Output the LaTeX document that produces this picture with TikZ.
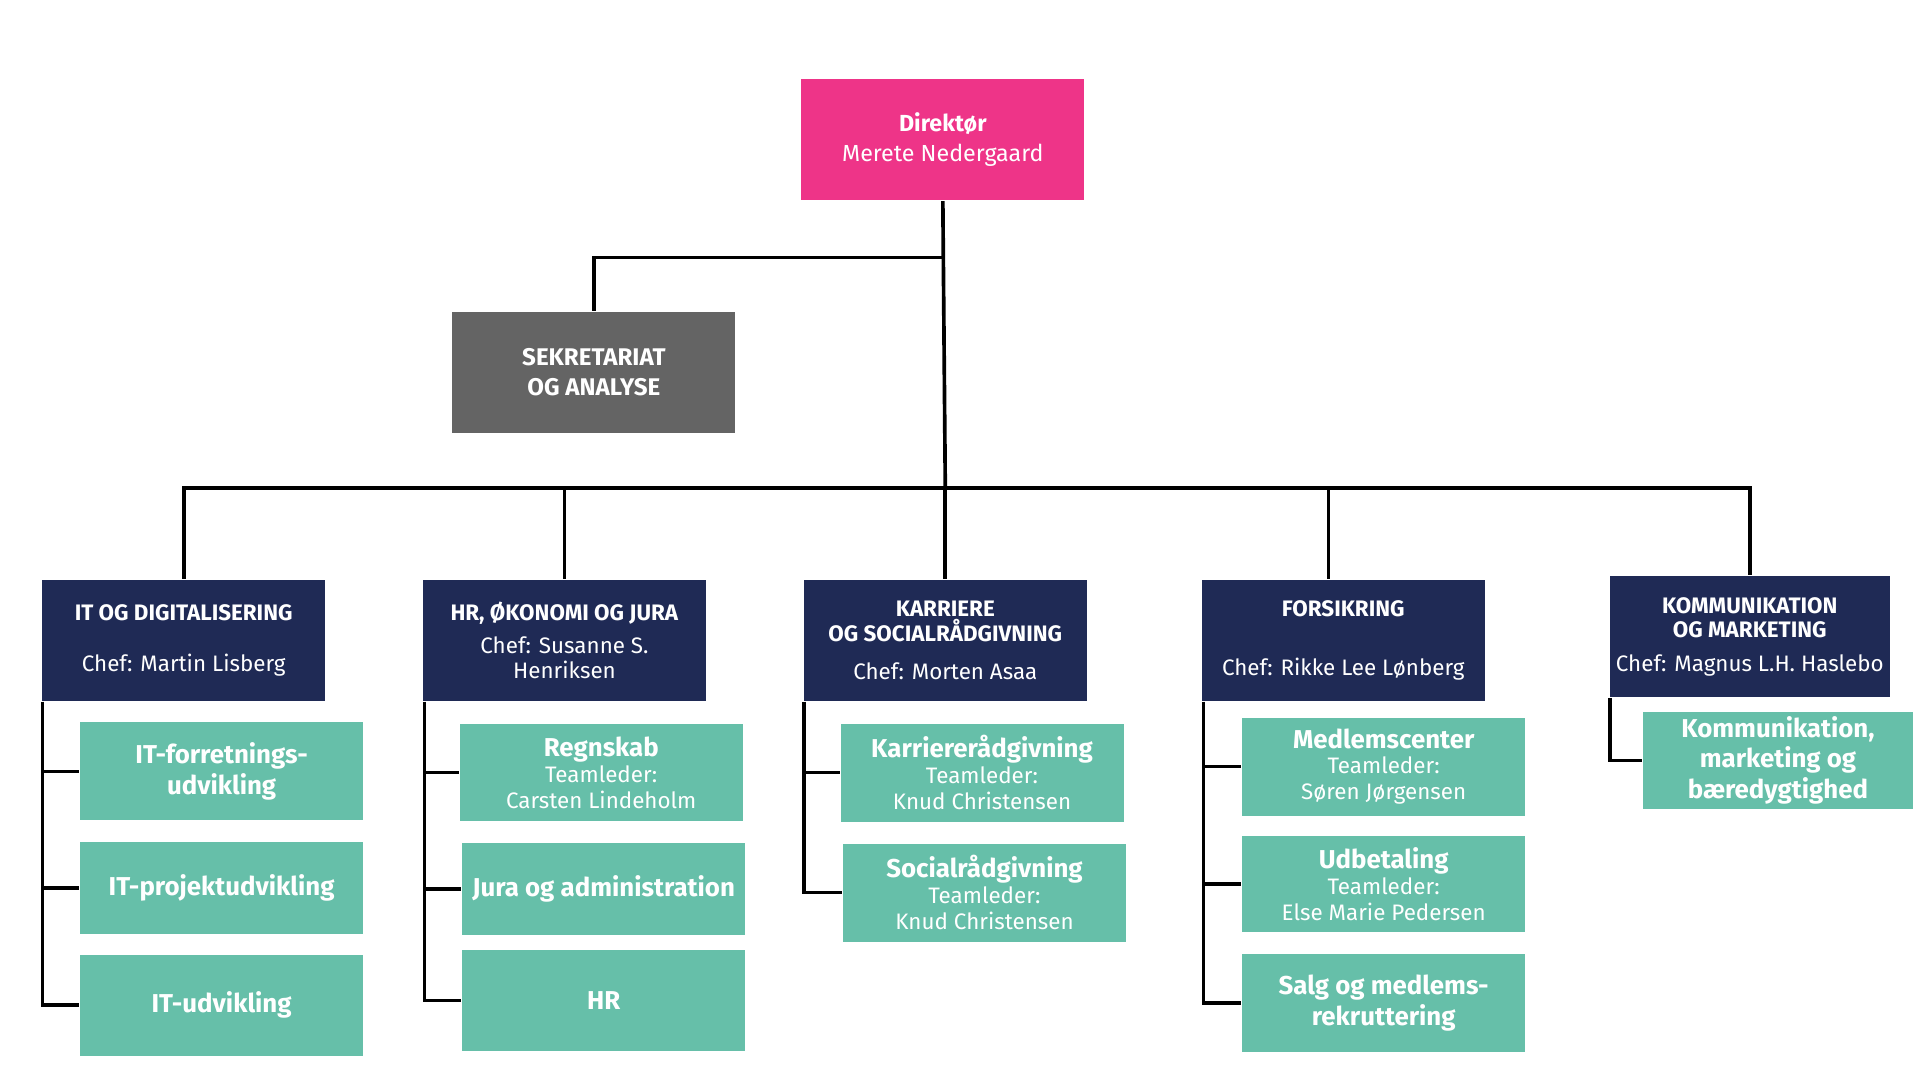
\documentclass[tikz,border=0pt]{standalone}
\usepackage{fontspec}
\setmainfont{Fira Sans}
\usetikzlibrary{positioning}
\definecolor{dirpink}{RGB}{238, 52, 136}
\definecolor{secgray}{RGB}{100, 100, 100}
\definecolor{deptnavy}{RGB}{31, 42, 85}
\definecolor{teamteal}{RGB}{102, 191, 169}
\newcommand{\ttl}[1]{{\bfseries\fontsize{6}{6.6}\selectfont #1}}

\begin{document}
\begin{tikzpicture}[x=0.01cm, y=-0.01cm,
        base/.style={rectangle, inner sep=1pt, align=center, text=white, minimum width=2.31cm},
        top/.style={base, fill=dirpink, minimum height=0.99cm, font=\fontsize{5.4}{7}\selectfont},
        sec/.style={base, fill=secgray, minimum height=0.99cm, font=\bfseries\fontsize{5.6}{6.8}\selectfont},
        dept/.style={base, fill=deptnavy, minimum height=0.99cm, font=\fontsize{5.2}{5.8}\selectfont},
        team/.style={base, fill=teamteal, font=\fontsize{5.2}{6}\selectfont},
        link/.style={draw=black, line width=0.85pt}
      ]
        \useasboundingbox (0,0) rectangle (1568,882);
        \node[top]  at (770, 114) (dir) {\textbf{Direktør}\\Merete Nedergaard};
        \node[sec]  at (485, 304) (sek) {SEKRETARIAT\\OG ANALYSE};

        \node[dept] at (150, 523)  (it)   {\textbf{IT OG DIGITALISERING}\\[6pt]Chef: Martin Lisberg};
        \node[dept] at (461, 523)  (hr)   {\textbf{HR, ØKONOMI OG JURA}\\[2pt]Chef: Susanne S.\\Henriksen};
        \node[dept] at (772, 523)  (kar)  {\textbf{KARRIERE}\\\textbf{OG SOCIALRÅDGIVNING}\\[3pt]Chef: Morten Asaa};
        \node[dept] at (1097, 523) (fors) {\textbf{FORSIKRING}\\[8pt]Chef: Rikke Lee Lønberg};
        \node[dept, minimum width=2.29cm] at (1429, 520) (kom) {\textbf{KOMMUNIKATION}\\\textbf{OG MARKETING}\\[2pt]Chef: Magnus L.H. Haslebo};

        \node[team, minimum height=0.80cm] at (181, 630) (it1) {\ttl{IT-forretnings-}\\\ttl{udvikling}};
        \node[team, minimum height=0.75cm] at (181, 725) (it2) {\ttl{IT-projektudvikling}};
        \node[team, minimum height=0.82cm] at (181, 821) (it3) {\ttl{IT-udvikling}};

        \node[team, minimum height=0.79cm] at (491, 631) (hr1) {\ttl{Regnskab}\\Teamleder:\\Carsten Lindeholm};
        \node[team, minimum height=0.75cm] at (493, 726) (hr2) {\ttl{Jura og administration}};
        \node[team, minimum height=0.82cm] at (493, 817) (hr3) {\ttl{HR}};

        \node[team, minimum height=0.80cm] at (802, 631) (kar1) {\ttl{Karriererådgivning}\\Teamleder:\\Knud Christensen};
        \node[team, minimum height=0.80cm] at (804, 729) (kar2) {\ttl{Socialrådgivning}\\Teamleder:\\Knud Christensen};

        \node[team, minimum height=0.80cm] at (1130, 626) (fo1) {\ttl{Medlemscenter}\\Teamleder:\\Søren Jørgensen};
        \node[team, minimum height=0.79cm] at (1130, 722) (fo2) {\ttl{Udbetaling}\\Teamleder:\\Else Marie Pedersen};
        \node[team, minimum height=0.80cm] at (1130, 819) (fo3) {\ttl{Salg og medlems-}\\\ttl{rekruttering}};

        \node[team, minimum width=2.21cm, minimum height=0.79cm, font=\fontsize{6}{5.8}\selectfont] at (1452, 621) (ko1) {\ttl{Kommunikation,}\\\ttl{marketing og}\\\ttl{bæredygtighed}};

        % top of the tree
        \coordinate (bus) at (772, 400);
        \draw[link] (dir.south) -- (bus);
        \draw[link] (dir.south) ++(0,46) -| (sek.north);
        \draw[link] (it.north) -- ++(0,-74) -| (kom.north);
        \draw[link] (hr.north) -- ++(0,-74);
        \draw[link] (kar.north) -- ++(0,-74);
        \draw[link] (fors.north) ++(-12,0) -- ++(0,-74);

        % team spines
        \draw[link] (it.south west) ++(1,0) |- (it3.west);
        \draw[link] (it.south west) ++(1,0) |- (it1.west);
        \draw[link] (it.south west) ++(1,0) |- (it2.west);
        \draw[link] (hr.south west) ++(2,0) |- (hr3.west);
        \draw[link] (hr.south west) ++(2,0) |- (hr1.west);
        \draw[link] (hr.south west) ++(2,0) |- (hr2.west);
        \draw[link] (kar.south west) ++(1,0) |- (kar2.west);
        \draw[link] (kar.south west) ++(1,0) |- (kar1.west);
        \draw[link] (fors.south west) ++(2,0) |- (fo3.west);
        \draw[link] (fors.south west) ++(2,0) |- (fo1.west);
        \draw[link] (fors.south west) ++(2,0) |- (fo2.west);
        \draw[link] (kom.south west) ++(1,0) |- (ko1.west);
      \end{tikzpicture}
\end{document}
